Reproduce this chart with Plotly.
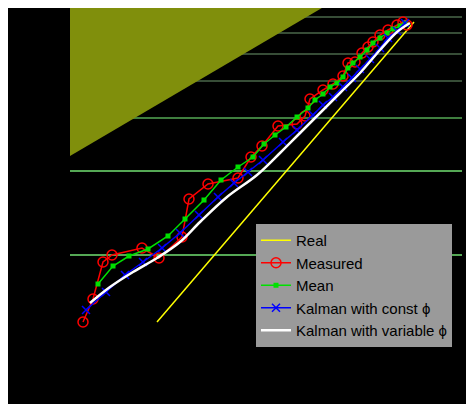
import plotly.graph_objects as go

# values read in pixel-like units (x right, y down)
meas_x = [83,93,103,112,142,159,182,189,208,238,251,262,278,297,305,310,323,333,343,348,355,362,368,373,380,388,397,403,407]
meas_y = [322,299,262,255,248,258,237,199,184,178,157,146,126,124,116,99,90,84,76,63,62,53,47,42,35,30,25,22,25]
mean_x = [98,113,129,148,168,185,204,221,238,253,264,275,286,297,308,315,323,330,337,343,348,353,360,367,373,380,387,393,400,405]
mean_y = [284,266,256,249,236,219,200,180,167,157,144,135,127,117,108,100,94,87,83,77,68,63,57,50,43,38,33,29,26,23]
kc_x = [86,106,125,143,162,180,199,218,234,248,263,283,297,313,323,333,343,352,360,370,380,388,397,405]
kc_y = [310,292,275,262,248,233,215,197,183,172,160,142,130,115,105,97,87,78,69,59,48,38,31,23]
kv_x = [90,110,133,157,180,200,227,257,280,300,320,340,360,380,397,410]
kv_y = [303,287,272,258,242,222,197,175,153,133,113,93,73,50,32,23]
real_x = [157,414]
real_y = [322,22]
grid_y = [17,33,54,81,118,171,255]
grid_w = [1,1,1,1.2,1.5,2,2]
tri_x = [70,327,70]
tri_y = [5,5,156]

fig = go.Figure()
shapes = []
for gy, gw in zip(grid_y, grid_w):
    shapes.append(dict(type="line", x0=70, x1=462, y0=gy, y1=gy, xref="x", yref="y",
                       line=dict(color="#55a855" if gw >= 1.5 else "#6f9a6f", width=gw), layer="below"))
path = "M %d,%d L %d,%d L %d,%d Z" % (tri_x[0], tri_y[0], tri_x[1], tri_y[1], tri_x[2], tri_y[2])
shapes.append(dict(type="path", path=path, xref="x", yref="y", fillcolor="#808f0c",
                   line=dict(width=0), layer="below"))

fig.add_trace(go.Scatter(x=real_x, y=real_y, mode="lines", name="Real",
                         line=dict(color="#ffff00", width=1.5)))
fig.add_trace(go.Scatter(x=meas_x, y=meas_y, mode="lines+markers", name="Measured",
                         line=dict(color="#ff0000", width=1.5),
                         marker=dict(symbol="circle-open", size=10, color="#ff0000", line=dict(width=1.5))))
fig.add_trace(go.Scatter(x=mean_x, y=mean_y, mode="lines+markers", name="Mean",
                         line=dict(color="#00e000", width=1.5),
                         marker=dict(symbol="square", size=5, color="#00e000")))
fig.add_trace(go.Scatter(x=kc_x, y=kc_y, mode="lines+markers", name="Kalman with const ϕ",
                         line=dict(color="#0000ff", width=1.5),
                         marker=dict(symbol="x-thin-open", size=8, color="#0000ff", line=dict(width=1.5, color="#0000ff"))))
fig.add_trace(go.Scatter(x=kv_x, y=kv_y, mode="lines", name="Kalman with variable ϕ",
                         line=dict(color="#ffffff", width=2.5, shape="spline")))

fig.update_layout(
    width=474, height=404, margin=dict(l=0, r=0, t=0, b=0),
    paper_bgcolor="black", plot_bgcolor="black", shapes=shapes,
    xaxis=dict(range=[8,482], visible=False, domain=[0,1]),
    yaxis=dict(range=[412,8], visible=False, domain=[0,1]),
    legend=dict(x=248/474, y=1-216/404, xanchor="left", yanchor="top",
                bgcolor="#9a9a9a", bordercolor="#9a9a9a", borderwidth=0,
                font=dict(family="Liberation Sans, Arial", size=15, color="black"),
                tracegroupgap=0, itemwidth=30),
    showlegend=True,
)
fig.write_html("out.html")
